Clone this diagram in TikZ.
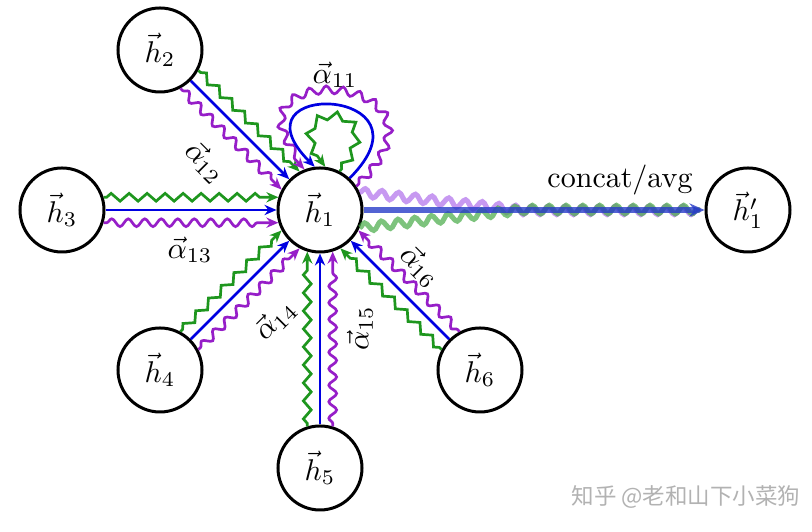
\documentclass[tikz,border=0pt]{standalone}
\usepackage{fontspec}
\newfontfamily\cjk{Noto Sans CJK SC}
\usetikzlibrary{arrows.meta,decorations.pathmorphing,calc}
\definecolor{gr}{RGB}{30,150,30}
\definecolor{bl}{RGB}{0,0,225}
\definecolor{pu}{RGB}{150,30,200}
\definecolor{bo}{RGB}{40,60,200}
\definecolor{po}{RGB}{175,110,235}
\definecolor{go}{RGB}{70,170,70}
\begin{document}
\begin{tikzpicture}[x=0.3333pt,y=0.3333pt,
  nd/.style={circle,draw,line width=1pt,minimum size=28pt,inner sep=0pt,fill=white},
  tip/.style={-{Stealth[length=4pt,width=3.4pt]}},
  gline/.style={gr,line width=0.9pt,tip,decorate,decoration={zigzag,amplitude=1.3pt,segment length=6pt,pre length=1pt,post length=4.5pt}},
  pline/.style={pu,line width=0.9pt,tip,decorate,decoration={snake,amplitude=1.3pt,segment length=5.5pt,pre length=1pt,post length=4.5pt}},
  bline/.style={bl,line width=0.9pt,tip},
  pout/.style={po,opacity=0.7,line width=1.7pt,decorate,decoration={snake,amplitude=1.4pt,segment length=5.6pt}},
  gout/.style={go,opacity=0.7,line width=1.7pt,decorate,decoration={snake,amplitude=1.4pt,segment length=5.6pt}},
  bout/.style={bo,opacity=0.8,line width=1.7pt,-{Stealth[length=5pt,width=4.4pt]}},
  lab/.style={inner sep=1pt}
]
\useasboundingbox (0,0) rectangle (812,532);

\node[nd] (h1) at (320,322) {$\vec{h}_1$};
\node[nd] (h2) at (160,482) {$\vec{h}_2$};
\node[nd] (h3) at (62,322) {$\vec{h}_3$};
\node[nd] (h4) at (160,162) {$\vec{h}_4$};
\node[nd] (h5) at (320,64) {$\vec{h}_5$};
\node[nd] (h6) at (480,162) {$\vec{h}_6$};
\node[nd] (h1p) at (748,322) {$\vec{h}'_1$};

\foreach \s/\t in {h2/-45,h3/0,h4/45,h5/90,h6/135}{
  \pgfmathtruncatemacro\ga{mod(\t+17+360,360)}
  \pgfmathtruncatemacro\gb{mod(\t+180-17+360,360)}
  \pgfmathtruncatemacro\ba{mod(\t+360,360)}
  \pgfmathtruncatemacro\bb{mod(\t+180+360,360)}
  \pgfmathtruncatemacro\pa{mod(\t-17+360,360)}
  \pgfmathtruncatemacro\pb{mod(\t+180+17+360,360)}
  \draw[pline] (\s.\pa) -- (h1.\pb);
  \draw[bline] (\s.\ba) -- (h1.\bb);
  \draw[gline] (\s.\ga) -- (h1.\gb);
}

% self loops
\draw[pline] (h1.33) .. controls +(45:165) and +(135:155) .. (h1.111);
\draw[bline] (h1.47) .. controls +(45:130) and +(135:125) .. (h1.97);
\draw[gline] (h1.63) .. controls +(50:95) and +(130:90) .. (h1.83);

% output
\coordinate (m) at (520,322);
\coordinate (e) at (700,322);
\draw[pout] (h1.24) -- (m) -- (e);
\draw[gout] (h1.-24) -- (m) -- (e);
\draw[bout] (h1.east) -- (h1p.west);

% labels
\node[lab] (a11) at (335,457) {$\vec{\alpha}_{11}$};
\node[lab,rotate=-45] (a12) at (205,370) {$\vec{\alpha}_{12}$};
\node[lab] (a13) at (190,282) {$\vec{\alpha}_{13}$};
\node[lab,rotate=45] (a14) at (275,212) {$\vec{\alpha}_{14}$};
\node[lab,rotate=90] (a15) at (360,204) {$\vec{\alpha}_{15}$};
\node[lab,rotate=-45] (a16) at (420,266) {$\vec{\alpha}_{16}$};
\node[lab] (cat) at (620,352) {concat/avg};

\node[text=black!30,font=\cjk\fontsize{7.5}{9}\selectfont] (wm) at (686,35) {知乎 @老和山下小菜狗};
\end{tikzpicture}
\end{document}
